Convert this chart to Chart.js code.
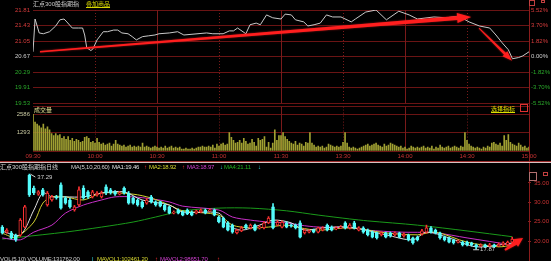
<!DOCTYPE html>
<html>
<head>
<meta charset="utf-8">
<script src="https://cdn.jsdelivr.net/npm/chart.js@4.4.0/dist/chart.umd.min.js"></script>
<style>
  body { margin: 0; background: #000; width: 551px; height: 261px; overflow: hidden; position: relative; }
  canvas { position: absolute; left: 0; }
  .t { position: absolute; font: 6px 'Liberation Sans', 'Noto Sans CJK SC', sans-serif; line-height: 7px; white-space: nowrap; }
  .s { letter-spacing: -0.2px; }
  .u { text-decoration: underline; }
  .ln { position: absolute; }
  .box { position: absolute; border: 1px solid #c04040; box-sizing: border-box; }
</style>
</head>
<body>
<canvas id="price" width="551" height="110" style="top:0"></canvas>
<canvas id="vol" width="551" height="62" style="top:100px"></canvas>
<canvas id="kline" width="551" height="98" style="top:163px"></canvas>

<div class="ln" style="left:529px;top:0;width:1px;height:261px;background:#8a1c1c"></div>
<div class="ln" style="left:0;top:161px;width:551px;height:1px;background:#9a2a2a"></div>
<div class="ln" style="left:0;top:162px;width:551px;height:1px;background:#d8c0c0"></div>

<div class="t" style="left:33px;top:1px;color:#c8c8c8">汇点300股指期指</div>
<div class="t u" style="left:86px;top:1px;color:#d8d800">叠加商品</div>
<div class="box" style="left:529px;top:0;width:6px;height:6px"></div>
<div class="box" style="left:541px;top:0;width:4px;height:3px"></div>

<div class="t" style="left:34px;top:107px;color:#e0e090">成交量</div>
<div class="t u" style="left:491px;top:106px;color:#e0e000">选择指标</div>
<div class="box" style="left:520px;top:104px;width:8px;height:8px;border-color:#e03030"></div>

<div class="t" style="left:0;top:164px;color:#d0d0d0">汇点300股指期指日线</div>
<div class="t s" style="left:71px;top:164px;color:#d0d0d0">MA(5,10,20,60)</div>
<div class="t s" style="left:112px;top:164px;color:#e0e0e0">MA1:19.46</div>
<div class="t" style="left:144px;top:164px;color:#ff3030">↑</div>
<div class="t s" style="left:149px;top:164px;color:#d8d830">MA2:18.92</div>
<div class="t" style="left:182px;top:164px;color:#ff3030">↑</div>
<div class="t s" style="left:187px;top:164px;color:#d040d0">MA3:18.97</div>
<div class="t" style="left:220px;top:164px;color:#30e0e0">↓</div>
<div class="t s" style="left:224px;top:164px;color:#20b020">MA4:21.11</div>
<div class="t" style="left:258px;top:164px;color:#30e0e0">↓</div>
<div class="box" style="left:529px;top:172px;width:8px;height:9px;border-color:#b07070"></div>
<div class="box" style="left:543px;top:172px;width:5px;height:4px"></div>

<div class="t s" style="left:0;top:256px;color:#d0d0d0">VOL(5,10) VOLUME:131762.00</div>
<div class="t" style="left:92px;top:256px;color:#30e0e0">|</div>
<div class="t s" style="left:97px;top:256px;color:#d8d830">MAVOL1:102461.20</div>
<div class="t" style="left:155px;top:256px;color:#ff3030">↑</div>
<div class="t s" style="left:160px;top:256px;color:#d040d0">MAVOL2:98651.70</div>
<div class="t" style="left:217px;top:256px;color:#ff3030">↑</div>

<script>
// ---- intraday price (minutes since 09:30, lunch break removed) ----
const prevClose = 20.67;
const priceTicks = [19.53, 19.91, 20.29, 20.67, 21.05, 21.43, 21.81];
const pctLabels = ['-5.52%', '-3.70%', '-1.82%', '0.00%', '1.82%', '3.70%', '5.52%'];
const timeLabels = ['09:30', '10:00', '10:30', '11:00', '11:30', '13:30', '14:00', '14:30', '15:00'];
const gridMinutes = [30, 60, 90, 120, 150, 180, 210];

const minutes = [0, 1, 3, 5, 8, 11, 13, 15, 16, 19, 22, 24, 25, 26, 28, 29, 31, 34, 36, 39,
  41, 43, 46, 48, 50, 53, 56, 59, 61, 66, 70, 73, 84, 87, 92, 95, 97, 99, 103, 105,
  108, 110, 113, 116, 120, 122, 125, 127, 131, 133, 136, 139, 142, 145, 149, 154, 156, 161, 166, 171,
  177, 182, 186, 194, 200, 206, 211, 216, 221, 224, 227, 230, 232, 235, 237, 240];
const prices = [20.79, 21.59, 21.25, 21.23, 21.28, 21.42, 21.57, 21.59, 21.54, 21.37, 21.37, 21.37, 21.20, 20.89, 20.82, 20.86, 21.08, 21.28, 21.28, 21.32,
  21.32, 21.25, 21.23, 21.16, 21.08, 21.16, 21.18, 21.20, 21.23, 21.25, 21.28, 21.20, 21.25, 21.23, 21.23, 21.30, 21.30, 21.37, 21.23, 21.45,
  21.49, 21.45, 21.69, 21.62, 21.59, 21.71, 21.69, 21.57, 21.52, 21.42, 21.45, 21.49, 21.69, 21.64, 21.64, 21.52, 21.59, 21.76, 21.81, 21.57,
  21.78, 21.69, 21.59, 21.64, 21.62, 21.66, 21.52, 21.42, 21.37, 21.20, 21.01, 20.84, 20.62, 20.65, 20.69, 20.79];

// arrows: [fromMinute, fromPrice, toMinute, toPrice]
const priceArrows = [[3.4, 20.79, 212, 21.64], [215.8, 21.37, 231.8, 20.57]];

// ---- volume per minute ----
const volumes = [2586, 2040, 1900, 1770, 1630, 1900, 1560, 1700, 1500, 1230,
  1090, 1230, 1090, 1160, 900, 1020, 830, 1020, 760, 900,
  690, 830, 760, 620, 690, 960, 1020, 890, 620, 690,
  550, 900, 620, 480, 550, 410, 480, 550, 350, 480,
  750, 480, 410, 350, 410, 280, 350, 410, 280, 350,
  280, 350, 280, 550, 280, 350, 280, 210, 280, 350,
  280, 210, 280, 210, 350, 210, 280, 350, 210, 280,
  210, 280, 140, 140, 210, 140, 140, 210, 140, 210,
  280, 280, 350, 280, 280, 350, 280, 410, 210, 480,
  350, 480, 550, 410, 480, 1290, 960, 760, 550, 620,
  760, 550, 900, 690, 480, 550, 830, 620, 350, 900,
  760, 830, 1020, 280, 620, 210, 550, 1500, 760, 1090,
  1090, 1290, 1020, 830, 690, 550, 480, 690, 410, 550,
  480, 350, 620, 550, 1290, 550, 410, 280, 350, 280,
  350, 210, 280, 480, 410, 350, 280, 350, 280, 350,
  620, 1290, 550, 280, 210, 280, 210, 140, 210, 280,
  350, 410, 480, 350, 410, 480, 550, 410, 350, 280,
  480, 350, 410, 550, 480, 410, 350, 280, 350, 210,
  280, 140, 210, 350, 280, 210, 280, 210, 280, 350,
  210, 280, 210, 350, 140, 280, 210, 410, 280, 210,
  280, 350, 210, 280, 350, 280, 210, 350, 280, 1290,
  760, 480, 350, 280, 210, 280, 210, 140, 280, 210,
  350, 280, 550, 620, 480, 410, 550, 350, 1090, 760,
  1160, 620, 480, 410, 350, 550, 410, 280, 350, 210,
  280];
const volTicks = [0, 1293, 2586, 3130];

// ---- daily candles ----
const opens = [23.6, 22.3, 22.1, 21.5, 21.5, 23.6, 37.0, 33.7, 32.1, 33.2,
  29.3, 30.6, 31.4, 34.5, 31.1, 30.6, 28.0, 29.3, 33.7, 32.7,
  31.4, 31.9, 31.4, 34.0, 33.2, 32.7, 32.1, 33.7, 32.4, 31.1,
  30.6, 30.1, 29.8, 31.4, 30.1, 30.1, 29.3, 28.8, 27.2, 28.0,
  27.5, 28.0, 27.5, 27.2, 27.5, 28.0, 27.8, 28.0, 26.2, 25.9,
  24.7, 24.1, 22.1, 22.6, 24.1, 23.4, 24.1, 23.4, 23.4, 24.7,
  28.8, 24.1, 23.6, 24.7, 24.1, 24.1, 24.7, 22.1, 22.3, 22.8,
  22.3, 22.8, 24.1, 23.6, 23.1, 23.4, 24.7, 23.4, 24.7, 22.8,
  23.4, 22.8, 22.3, 22.1, 21.6, 22.1, 22.1, 21.6, 22.1, 21.3,
  21.6, 20.8, 21.0, 21.8, 22.3, 23.4, 22.8, 22.1, 21.0, 20.8,
  20.3, 19.7, 19.7, 19.7, 19.5, 19.0, 18.7, 19.0, 18.7, 19.0,
  18.7, 19.0, 19.0, 19.7];
const closes = [22.1, 22.8, 20.8, 20.3, 25.4, 28.8, 31.9, 32.4, 32.7, 31.9,
  32.4, 31.4, 31.1, 28.5, 29.8, 28.8, 28.8, 33.2, 31.1, 31.4,
  32.7, 32.4, 32.4, 32.4, 32.4, 32.1, 32.4, 32.4, 29.8, 29.8,
  29.3, 28.8, 30.6, 30.1, 29.3, 29.0, 28.0, 27.2, 27.5, 27.2,
  26.7, 27.0, 26.7, 27.8, 28.0, 27.2, 28.0, 26.7, 24.9, 23.6,
  22.8, 22.3, 22.8, 23.4, 23.4, 24.1, 22.8, 23.6, 24.7, 25.9,
  23.4, 24.9, 24.9, 23.6, 23.9, 23.4, 21.0, 22.8, 22.6, 22.3,
  23.4, 23.4, 22.8, 22.8, 23.4, 23.6, 23.4, 24.1, 23.4, 23.4,
  22.3, 21.6, 21.0, 20.8, 22.1, 21.0, 21.3, 22.1, 21.0, 21.8,
  20.3, 19.5, 20.3, 22.6, 23.4, 22.3, 22.1, 20.8, 20.3, 19.7,
  19.5, 20.0, 19.0, 19.0, 19.0, 18.45, 19.0, 18.5, 19.0, 18.5,
  19.2, 19.5, 19.7, 20.5];
const highs = [24.0, 23.2, 22.5, 21.8, 25.8, 29.2, 37.29, 34.2, 33.0, 33.6,
  32.8, 31.8, 31.8, 35.0, 31.5, 31.0, 29.2, 34.0, 34.3, 33.0,
  33.1, 32.8, 32.9, 34.5, 33.6, 33.0, 32.8, 34.0, 32.8, 31.4,
  30.9, 30.4, 31.0, 31.8, 30.4, 30.3, 29.6, 29.0, 27.8, 28.3,
  27.8, 28.3, 27.8, 28.0, 28.3, 28.3, 28.4, 28.3, 26.5, 26.2,
  25.0, 24.4, 23.1, 23.8, 24.4, 24.4, 24.4, 24.0, 25.0, 26.3,
  29.7, 25.3, 25.2, 25.0, 24.4, 24.4, 25.2, 23.1, 22.9, 23.1,
  23.6, 23.7, 24.4, 23.9, 23.7, 24.0, 25.0, 24.5, 25.1, 23.7,
  23.7, 23.1, 22.6, 22.3, 22.4, 22.3, 22.3, 22.4, 22.3, 22.1,
  21.8, 21.0, 21.3, 23.0, 24.1, 23.7, 23.1, 22.3, 21.3, 21.0,
  20.5, 20.3, 20.0, 20.0, 19.7, 19.2, 19.3, 19.2, 19.4, 19.2,
  19.5, 19.8, 20.0, 21.0];
const lows = [21.8, 22.0, 20.5, 19.9, 21.2, 23.4, 31.5, 32.0, 31.8, 31.6,
  29.0, 30.3, 30.8, 28.2, 29.5, 28.5, 27.7, 29.0, 30.8, 31.0,
  31.1, 31.6, 31.1, 32.0, 32.1, 31.8, 31.9, 32.1, 29.5, 29.5,
  29.0, 28.5, 29.5, 29.8, 29.0, 28.8, 27.7, 27.0, 27.0, 27.0,
  26.5, 26.8, 26.5, 27.0, 27.3, 27.0, 27.6, 26.5, 24.7, 23.4,
  22.6, 22.0, 21.8, 22.4, 23.1, 23.1, 22.6, 23.1, 23.1, 24.5,
  23.1, 23.9, 23.4, 23.4, 23.6, 23.1, 20.8, 21.8, 22.1, 22.1,
  22.1, 22.6, 22.6, 22.6, 22.9, 23.2, 23.1, 23.1, 23.1, 22.6,
  22.0, 21.3, 20.8, 20.5, 21.3, 20.8, 21.0, 21.3, 20.8, 21.0,
  20.0, 19.2, 20.0, 21.5, 22.0, 22.0, 21.8, 20.5, 20.0, 19.5,
  19.2, 19.5, 18.7, 18.7, 18.7, 17.87, 18.5, 18.3, 18.5, 18.3,
  18.5, 18.8, 18.7, 19.5];
const candleSlots = 117;
const candleTicks = [20, 25, 30, 35];

// moving averages at selected candles
const ma1Idx = [0, 4, 7, 9, 11, 14, 18, 22, 27, 31, 37, 40, 48, 50, 53, 57, 60, 64, 67, 71, 77, 85, 91, 94, 99, 105, 113];
const ma1Val = [22.5, 21.6, 28.0, 32.4, 31.4, 31.4, 31.4, 32.4, 32.7, 30.6, 29.3, 27.5, 27.2, 24.1, 22.8, 24.1, 25.4, 24.7, 22.8, 23.4, 23.6, 21.6, 20.3, 22.3, 20.8, 18.5, 19.46];
const ma2Idx = [0, 3, 7, 9, 11, 14, 18, 22, 29, 33, 37, 40, 48, 51, 55, 59, 63, 66, 70, 77, 85, 92, 96, 103, 110, 113];
const ma2Val = [22.0, 21.0, 24.9, 29.8, 31.4, 31.4, 30.6, 32.4, 32.1, 31.1, 29.3, 27.8, 26.7, 24.1, 23.4, 23.6, 24.1, 23.4, 22.8, 23.4, 22.1, 21.6, 22.3, 19.7, 18.5, 18.92];
const ma3Idx = [0, 4, 7, 11, 14, 18, 22, 25, 29, 33, 37, 40, 48, 51, 55, 59, 63, 66, 70, 77, 81, 88, 96, 103, 113];
const ma3Val = [20.8, 20.3, 22.3, 24.1, 27.2, 29.3, 30.6, 31.4, 31.4, 30.9, 30.1, 29.0, 28.0, 26.2, 25.4, 24.9, 24.7, 24.1, 23.6, 23.4, 22.8, 22.3, 22.1, 20.8, 18.97];
const ma4Idx = [0, 4, 14, 22, 29, 34, 40, 48, 55, 63, 70, 77, 81, 92, 103, 113];
const ma4Val = [20.5, 21.0, 22.3, 23.6, 24.9, 26.2, 27.8, 28.5, 28.5, 27.8, 26.7, 25.7, 25.2, 24.1, 22.6, 21.11];

// arrow in candle space: [fromIndex, fromValue, toIndex, toValue]
const candleArrows = [[111.4, 17.67, 115.4, 20.78]];

Chart.defaults.font.family = "'Liberation Sans', Arial, sans-serif";
Chart.defaults.font.size = 6;
Chart.defaults.animation = false;

const GRID = '#6a1414';

function priceColor(v) {
    if (v > prevClose + 1e-6) return '#d83c3c';
    if (v < prevClose - 1e-6) return '#2aa82a';
    return '#d0d0d0';
}

function sparse(idx, vals, n) {
    const out = new Array(n).fill(null);
    idx.forEach((k, j) => { out[k] = vals[j]; });
    return out;
}

function drawArrow(ctx, x0, y0, x1, y1, w0, w1, headLen, headW) {
    const len = Math.hypot(x1 - x0, y1 - y0);
    const ux = (x1 - x0) / len, uy = (y1 - y0) / len;
    const nx = -uy, ny = ux;
    const bx = x1 - ux * headLen, by = y1 - uy * headLen;
    ctx.beginPath();
    ctx.moveTo(x0 + nx * w0 / 2, y0 + ny * w0 / 2);
    ctx.lineTo(bx + nx * w1 / 2, by + ny * w1 / 2);
    ctx.lineTo(bx + nx * headW / 2, by + ny * headW / 2);
    ctx.lineTo(x1, y1);
    ctx.lineTo(bx - nx * headW / 2, by - ny * headW / 2);
    ctx.lineTo(bx - nx * w1 / 2, by - ny * w1 / 2);
    ctx.lineTo(x0 - nx * w0 / 2, y0 - ny * w0 / 2);
    ctx.closePath();
    ctx.fill();
}

const arrowPlugin = {
    id: 'arrows',
    afterDatasetsDraw(chart, args, opts) {
        const { ctx } = chart;
        const xs = chart.scales.x, ys = chart.scales[opts.yAxis];
        ctx.save();
        ctx.fillStyle = '#ff1e1e';
        ctx.shadowColor = 'rgba(255,40,40,0.6)';
        ctx.shadowBlur = 2;
        opts.list.forEach((a, i) => {
            const s = opts.sizes[i];
            drawArrow(ctx, xs.getPixelForValue(a[0]), ys.getPixelForValue(a[1]),
                xs.getPixelForValue(a[2]), ys.getPixelForValue(a[3]), s[0], s[1], s[2], s[3]);
        });
        ctx.restore();
    }
};

const timeGridPlugin = {
    id: 'timeGrid',
    beforeDatasetsDraw(chart) {
        const { ctx, chartArea } = chart;
        const xs = chart.scales.x;
        ctx.save();
        ctx.strokeStyle = '#7a1a1a';
        ctx.lineWidth = 1;
        gridMinutes.forEach(m => {
            const x = Math.round(xs.getPixelForValue(m)) + 0.5;
            ctx.setLineDash((m / 30) % 2 ? [1, 2] : []);
            ctx.beginPath();
            ctx.moveTo(x, chartArea.top);
            ctx.lineTo(x, chartArea.bottom);
            ctx.stroke();
        });
        ctx.restore();
    }
};

const extremesPlugin = {
    id: 'extremes',
    afterDatasetsDraw(chart) {
        const { ctx } = chart;
        const xs = chart.scales.x, ys = chart.scales.y;
        const hi = highs.indexOf(Math.max(...highs));
        const lo = lows.indexOf(Math.min(...lows));
        ctx.save();
        ctx.strokeStyle = '#d0d0d0';
        ctx.fillStyle = '#d0d0d0';
        ctx.font = "6px 'Liberation Sans', Arial";
        ctx.textBaseline = 'middle';
        ctx.lineWidth = 1;
        let x = xs.getPixelForValue(hi), y = ys.getPixelForValue(highs[hi]);
        ctx.beginPath(); ctx.moveTo(x + 1, y); ctx.lineTo(x + 6, y + 3); ctx.stroke();
        ctx.fillText(highs[hi].toFixed(2), x + 8, y + 3);
        x = xs.getPixelForValue(lo); y = ys.getPixelForValue(lows[lo]);
        ctx.beginPath(); ctx.moveTo(x - 3, y + 0.5); ctx.lineTo(x + 3, y + 0.5); ctx.stroke();
        ctx.fillText(lows[lo].toFixed(2), x + 4, y);
        ctx.restore();
    }
};

const setTicks = list => scale => { scale.ticks = list.map(v => ({ value: v })); };

// ---- top: intraday price ----
new Chart(document.getElementById('price'), {
    type: 'line',
    data: {
        datasets: [{
            data: minutes.map((m, i) => ({ x: m, y: prices[i] })),
            borderColor: '#c8c8c8',
            borderWidth: 1,
            pointRadius: 0,
            tension: 0
        }]
    },
    options: {
        responsive: false,
        devicePixelRatio: 1,
        layout: { padding: { top: 10, bottom: 6, left: 0, right: 0 } },
        scales: {
            x: { type: 'linear', min: 0, max: 240, display: false },
            y: {
                position: 'left', min: 19.53, max: 21.81,
                afterFit: s => { s.width = 33; },
                afterBuildTicks: setTicks(priceTicks),
                grid: { color: GRID, drawTicks: false },
                border: { display: false },
                ticks: { padding: 3, color: c => priceColor(c.tick.value), callback: v => v.toFixed(2) }
            },
            pct: {
                position: 'right', min: 19.53, max: 21.81,
                afterFit: s => { s.width = 22; },
                afterBuildTicks: setTicks(priceTicks),
                grid: { display: false, drawTicks: false },
                border: { display: false },
                ticks: { padding: 2, color: c => priceColor(c.tick.value), callback: v => pctLabels[priceTicks.indexOf(v)] }
            }
        },
        plugins: {
            legend: { display: false },
            tooltip: { enabled: false },
            arrows: { yAxis: 'y', list: priceArrows, sizes: [[1.5, 4, 14, 10], [1, 2.5, 10, 7]] }
        }
    },
    plugins: [timeGridPlugin, arrowPlugin]
});

// ---- middle: volume ----
new Chart(document.getElementById('vol'), {
    type: 'bar',
    data: {
        datasets: [{
            data: volumes.map((v, i) => ({ x: i, y: v })),
            backgroundColor: '#a0a032',
            barThickness: 1
        }]
    },
    options: {
        responsive: false,
        devicePixelRatio: 1,
        layout: { padding: { top: 5, bottom: 0, left: 0, right: 0 } },
        scales: {
            x: {
                type: 'linear', min: 0, max: 240, offset: false,
                afterBuildTicks: setTicks(gridMinutes.concat([0, 240]).sort((a, b) => a - b)),
                afterFit: s => { s.height = 11; },
                grid: { display: false, drawTicks: false, offset: false },
                border: { display: false },
                ticks: { padding: 2, color: '#c83232', maxRotation: 0, autoSkip: false, callback: v => timeLabels[v / 30] }
            },
            y: {
                position: 'left', min: 0, max: 3130,
                afterFit: s => { s.width = 33; },
                afterBuildTicks: setTicks(volTicks),
                grid: { color: GRID, drawTicks: false },
                border: { display: false },
                ticks: { padding: 3, color: '#c8c8a0', callback: v => (v === 1293 || v === 2586) ? String(v) : '' }
            },
            vr: {
                position: 'right', min: 0, max: 3130,
                afterFit: s => { s.width = 22; },
                grid: { display: false, drawTicks: false },
                border: { display: false },
                ticks: { display: false }
            }
        },
        plugins: { legend: { display: false }, tooltip: { enabled: false } }
    },
    plugins: [timeGridPlugin]
});

// ---- bottom: daily candles with moving averages ----
const up = opens.map((o, i) => closes[i] >= o);
const candleLabels = Array.from({ length: candleSlots }, (_, i) => String(i));
const maLine = (idx, vals, color) => ({
    type: 'line',
    data: sparse(idx, vals, opens.length),
    borderColor: color,
    borderWidth: 1,
    pointRadius: 0,
    spanGaps: true,
    tension: 0.3
});

new Chart(document.getElementById('kline'), {
    type: 'bar',
    data: {
        labels: candleLabels,
        datasets: [
            {
                data: opens.map((o, i) => [o, closes[i]]),
                backgroundColor: up.map(u => u ? '#000' : '#54fcfc'),
                borderColor: up.map(u => u ? '#ff3232' : '#54fcfc'),
                borderWidth: 1,
                borderSkipped: false,
                barThickness: 3,
                minBarLength: 1,
                grouped: false
            },
            {
                data: lows.map((l, i) => [l, highs[i]]),
                backgroundColor: up.map(u => u ? '#ff3232' : '#54fcfc'),
                barThickness: 1,
                grouped: false
            },
            maLine(ma1Idx, ma1Val, '#e0e0e0'),
            maLine(ma2Idx, ma2Val, '#d0d030'),
            maLine(ma3Idx, ma3Val, '#c830c8'),
            maLine(ma4Idx, ma4Val, '#1a9a1a')
        ]
    },
    options: {
        responsive: false,
        devicePixelRatio: 1,
        layout: { padding: { top: 10, bottom: 9, left: 0, right: 0 } },
        scales: {
            x: { display: false },
            y: {
                position: 'right', min: 17.16, max: 37.57,
                afterFit: s => { s.width = 23; },
                afterBuildTicks: setTicks(candleTicks),
                grid: { drawOnChartArea: false, color: '#8a1c1c', tickLength: 3 },
                border: { display: false },
                ticks: { padding: 3, color: '#c83232', callback: v => v.toFixed(2) }
            }
        },
        plugins: {
            legend: { display: false },
            tooltip: { enabled: false },
            arrows: { yAxis: 'y', list: candleArrows, sizes: [[2, 4, 9, 9]] }
        }
    },
    plugins: [extremesPlugin, arrowPlugin]
});
</script>
</body>
</html>
